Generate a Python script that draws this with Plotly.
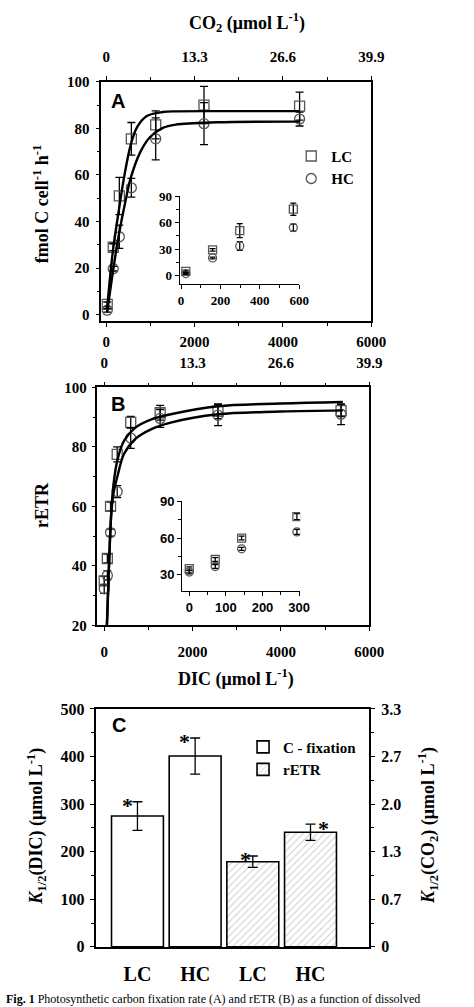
import plotly.graph_objects as go

W, H = 474, 1007

# ---- panel A: carbon fixation vs DIC ----
dic_a = [24, 160, 298, 570, 1121, 2214, 4378]
fix_lc = [4.5, 29, 51, 75.5, 81.5, 90, 89.5]
fix_lc_err = [1, 1.5, 8, 7, 6, 8, 6]
fix_hc = [2, 19.8, 33.5, 54.5, 75.5, 82, 84]
fix_hc_err = [0.8, 1, 5, 4, 9, 9, 3]

# fitted curves
fit_a_lc_x = [20, 150, 280, 410, 550, 700, 920, 1280, 1600, 2500, 4378]
fit_a_lc_y = [2.4, 27, 44, 59.5, 72.5, 80.5, 85.3, 87, 87.3, 87.4, 87.4]
fit_a_hc_x = [22, 153, 277, 444, 553, 772, 990, 1283, 1574, 2500, 4378]
fit_a_hc_y = [1, 18.5, 33.3, 49.5, 58.5, 69.8, 76.2, 80.2, 81.6, 82.6, 82.9]

# ---- panel B: rETR vs DIC ----
dic_b = [0, 71, 143, 294, 600, 1266, 2575, 5360]
etr_lc = [35, 42.5, 60, 77.5, 88.3, 91.5, 92, 92.2]
etr_lc_err = [1.5, 1.5, 1.5, 2.5, 2, 2.5, 2.5, 2]
etr_hc = [32.3, 36.8, 51.2, 65, 83, 89.6, 90.7, 91]
etr_hc_err = [1.5, 1.5, 1.2, 2, 3.5, 3, 3.5, 3.5]

fit_b_lc_x = [62, 87, 124, 160, 211, 305, 451, 705, 1069, 1505, 2575, 4000, 5400]
fit_b_lc_y = [20, 30.5, 46, 58, 67.5, 76, 82.1, 86.5, 89.3, 91, 93.7, 94.6, 95.1]
fit_b_hc_x = [60, 87, 124, 160, 211, 305, 451, 705, 1069, 1505, 2575, 4000, 5400]
fit_b_hc_y = [20, 31.5, 47, 57.5, 64.5, 70.5, 77.7, 82.7, 86, 88.2, 91, 91.9, 92.3]

# ---- panel C: half-saturation constants ----
bar_pos = [1, 2, 3, 4]
bar_labels = ["LC", "HC", "LC", "HC"]
k_fix = [275, 401]
k_fix_err = [30, 38]
k_etr = [179, 241]
k_etr_err = [12, 17]
k_right_ticks = ["0", "0.7", "1.3", "2.0", "2.7", "3.3"]

dic_ticks = [0, 2000, 4000, 6000]
co2_ticks = ["0", "13.3", "26.6", "39.9"]

SERIF = "Liberation Serif"
SANS = "Liberation Sans"


def px_x(p):
    return p / W


def px_y(p):
    return 1 - p / H


def tfont(size=15, family=SERIF):
    return dict(family=family, size=size, color="black", weight="bold")


def axis(**kw):
    base = dict(
        showline=True, linecolor="black", linewidth=1.5,
        ticks="outside", ticklen=4, tickwidth=1.3, tickcolor="black",
        showgrid=False, zeroline=False, tickfont=tfont(),
    )
    base.update(kw)
    return base


def minor(step, ln=3):
    return dict(dtick=step, ticks="outside", ticklen=ln, tickwidth=1.1, tickcolor="black")


def err(arr, w=4):
    return dict(type="data", array=arr, color="black", thickness=1.3, width=w)


def markers(sym, size=10):
    return dict(symbol=sym, size=size, color="#555", line=dict(width=1.3, color="#555"))


fig = go.Figure()

# panel A main
fig.add_trace(go.Scatter(x=dic_a, y=fix_lc, error_y=err(fix_lc_err), mode="markers",
                         marker=markers("square-open"), name="LC", xaxis="x", yaxis="y"))
fig.add_trace(go.Scatter(x=dic_a, y=fix_hc, error_y=err(fix_hc_err), mode="markers",
                         marker=markers("circle-open"), name="HC", xaxis="x", yaxis="y"))
for fx, fy in [(fit_a_lc_x, fit_a_lc_y), (fit_a_hc_x, fit_a_hc_y)]:
    fig.add_trace(go.Scatter(x=fx, y=fy, mode="lines", line=dict(color="black", width=2.4, shape="spline"),
                             showlegend=False, xaxis="x", yaxis="y"))
fig.add_trace(go.Scatter(x=[None], y=[None], xaxis="x2", yaxis="y", showlegend=False))

# panel A inset
fig.add_trace(go.Scatter(x=dic_a[:4], y=fix_lc[:4], error_y=err(fix_lc_err[:4], 3), mode="markers",
                         marker=markers("square-open", 8), showlegend=False, xaxis="x3", yaxis="y3"))
fig.add_trace(go.Scatter(x=dic_a[:4], y=fix_hc[:4], error_y=err(fix_hc_err[:4], 3), mode="markers",
                         marker=markers("circle-open", 8), showlegend=False, xaxis="x3", yaxis="y3"))

# panel B main
fig.add_trace(go.Scatter(x=dic_b, y=etr_lc, error_y=err(etr_lc_err), mode="markers",
                         marker=markers("square-open"), showlegend=False, xaxis="x4", yaxis="y4"))
fig.add_trace(go.Scatter(x=dic_b, y=etr_hc, error_y=err(etr_hc_err), mode="markers",
                         marker=markers("circle-open"), showlegend=False, xaxis="x4", yaxis="y4"))
for fx, fy in [(fit_b_lc_x, fit_b_lc_y), (fit_b_hc_x, fit_b_hc_y)]:
    fig.add_trace(go.Scatter(x=fx, y=fy, mode="lines", line=dict(color="black", width=2.4, shape="spline"),
                             showlegend=False, xaxis="x4", yaxis="y4"))
fig.add_trace(go.Scatter(x=[None], y=[None], xaxis="x5", yaxis="y4", showlegend=False))

# panel B inset
fig.add_trace(go.Scatter(x=dic_b[:4], y=etr_lc[:4], error_y=err(etr_lc_err[:4], 3), mode="markers",
                         marker=markers("square-open", 8), showlegend=False, xaxis="x6", yaxis="y6"))
fig.add_trace(go.Scatter(x=dic_b[:4], y=etr_hc[:4], error_y=err(etr_hc_err[:4], 3), mode="markers",
                         marker=markers("circle-open", 8), showlegend=False, xaxis="x6", yaxis="y6"))

# panel C bars
fig.add_trace(go.Bar(x=bar_pos[:2], y=k_fix, error_y=err(k_fix_err, 5), width=0.9, name="C - fixation",
                     marker=dict(color="white", line=dict(color="black", width=1.6)),
                     legend="legend2", xaxis="x7", yaxis="y7"))
fig.add_trace(go.Bar(x=bar_pos[2:], y=k_etr, error_y=err(k_etr_err, 5), width=0.9, name="rETR",
                     marker=dict(color="white", line=dict(color="black", width=1.6),
                                 pattern=dict(shape="/", fgcolor="#999", bgcolor="white", size=5, solidity=0.2)),
                     legend="legend2", xaxis="x7", yaxis="y7"))
fig.add_trace(go.Scatter(x=[None], y=[None], xaxis="x7", yaxis="y8", showlegend=False))

dom_a_x = [px_x(103), px_x(383)]
dom_a_y = [px_y(318.5), px_y(75)]
dom_b_x = [px_x(99), px_x(381)]
dom_b_y = [px_y(628), px_y(386)]
dom_c_x = [px_x(97), px_x(381)]
dom_c_y = [px_y(955), px_y(713)]

fig.update_layout(
    width=W, height=H, margin=dict(l=0, r=0, t=0, b=0),
    paper_bgcolor="white", plot_bgcolor="white", barmode="overlay",
    xaxis=axis(domain=dom_a_x, anchor="y", range=[-110, 6000], tickvals=dic_ticks,
               minor=minor(1000), ticklabelstandoff=2),
    xaxis2=axis(overlaying="x", anchor="y", side="top", range=[-110, 6000], tickvals=dic_ticks,
                ticktext=co2_ticks, minor=minor(1000), ticklabelstandoff=8),
    yaxis=axis(domain=dom_a_y, anchor="x", range=[-2.7, 100], dtick=20, mirror=True,
               minor=minor(10), ticklabelstandoff=3),
    xaxis3=axis(domain=[px_x(184.3), px_x(308.3)], anchor="y3", range=[-7, 600], tickvals=[0, 200, 400, 600],
                minor=minor(100), tickfont=tfont(13), linewidth=1.3),
    yaxis3=axis(domain=[px_y(281), px_y(191.7)], anchor="x3", range=[-10.2, 90], tickvals=[0, 30, 60, 90],
                minor=minor(15), tickfont=tfont(13), linewidth=1.3),
    xaxis4=axis(domain=dom_b_x, anchor="y4", range=[-153, 6000], tickvals=dic_ticks,
                minor=minor(1000), ticklabelstandoff=8),
    xaxis5=axis(overlaying="x4", anchor="y4", side="top", range=[-153, 6000], tickvals=dic_ticks,
                ticktext=co2_ticks, minor=minor(1000), ticklabelstandoff=8),
    yaxis4=axis(domain=dom_b_y, anchor="x4", range=[20, 100], dtick=20, mirror=True,
                minor=minor(10), ticklabelstandoff=2),
    xaxis6=axis(domain=[px_x(187), px_x(309.3)], anchor="y6", range=[-19, 303], tickvals=[0, 100, 200, 300],
                minor=minor(50), tickfont=tfont(13, SANS), linewidth=1.3),
    yaxis6=axis(domain=[px_y(593.3), px_y(501.7)], anchor="x6", range=[16.6, 90], tickvals=[30, 60, 90],
                minor=minor(15), tickfont=tfont(13, SANS), linewidth=1.3),
    xaxis7=axis(domain=dom_c_x, anchor="y7", range=[0.273, 5.02], tickvals=bar_pos, ticktext=bar_labels,
                ticks="", mirror=True, tickfont=tfont(20), ticklabelstandoff=8),
    yaxis7=axis(domain=dom_c_y, anchor="x7", range=[0, 500], dtick=100, minor=minor(50),
                tickfont=tfont(16), ticklabelstandoff=2),
    yaxis8=axis(overlaying="y7", anchor="x7", side="right", range=[0, 500], tickvals=[0, 100, 200, 300, 400, 500],
                ticktext=k_right_ticks, minor=minor(50), tickfont=tfont(16), ticklabelstandoff=3),
    legend=dict(x=px_x(300), y=px_y(134), xanchor="left", yanchor="top", bgcolor="rgba(0,0,0,0)",
                font=tfont(15), itemwidth=30, tracegroupgap=0),
    legend2=dict(x=px_x(250), y=px_y(735), xanchor="left", yanchor="top", bgcolor="rgba(0,0,0,0)",
                 font=tfont(15), itemwidth=30),
)

ann = [
    ("CO<sub>2</sub> (μmol L<sup>-1</sup>)", 254, 15, 0, 18, SERIF),
    ("fmol C cell<sup>-1</sup> h<sup>-1</sup>", 41, 200, -90, 18, SERIF),
    ("rETR", 42, 505, -90, 18, SERIF),
    ("DIC (μmol L<sup>-1</sup>)", 243, 682, 0, 18, SERIF),
    ("<i>K</i><sub>1/2</sub>(DIC) (μmol L<sup>-1</sup>)", 36, 832, -90, 18, SERIF),
    ("<i>K</i><sub>1/2</sub>(CO<sub>2</sub>) (μmol L<sup>-1</sup>)", 442, 832, -90, 18, SERIF),
    ("A", 120, 95, 0, 20, SANS),
    ("B", 120, 403, 0, 20, SANS),
    ("C", 121, 729, 0, 20, SANS),
]
for text, x, y, ang, size, fam in ann:
    fig.add_annotation(text=text, x=px_x(x), y=px_y(y), xref="paper", yref="paper",
                       showarrow=False, textangle=ang, font=tfont(size, fam),
                       xanchor="center", yanchor="middle")

# significance asterisks above the error bars
star_dx = [-10, -11, -7, 13]
k_all = k_fix + k_etr
k_err_all = k_fix_err + k_etr_err
for xb, v, e, dx in zip(bar_pos, k_all, k_err_all, star_dx):
    fig.add_annotation(text="*", x=xb, y=v + e, xref="x7", yref="y7", showarrow=False,
                       xshift=dx, yshift=-4, font=tfont(22), yanchor="middle")

# figure caption, cut by the bottom edge as in the source page
fig.add_annotation(
    text="<b>Fig. 1</b> Photosynthetic carbon fixation rate (A) and rETR (B) as a function of dissolved",
    x=px_x(2), y=px_y(999), xref="paper", yref="paper", showarrow=False,
    xanchor="left", yanchor="top", font=dict(family=SERIF, size=12, color="black"),
)

fig.write_html("out.html", config={"displayModeBar": False},
               post_script="document.body.style.margin='0px';")
